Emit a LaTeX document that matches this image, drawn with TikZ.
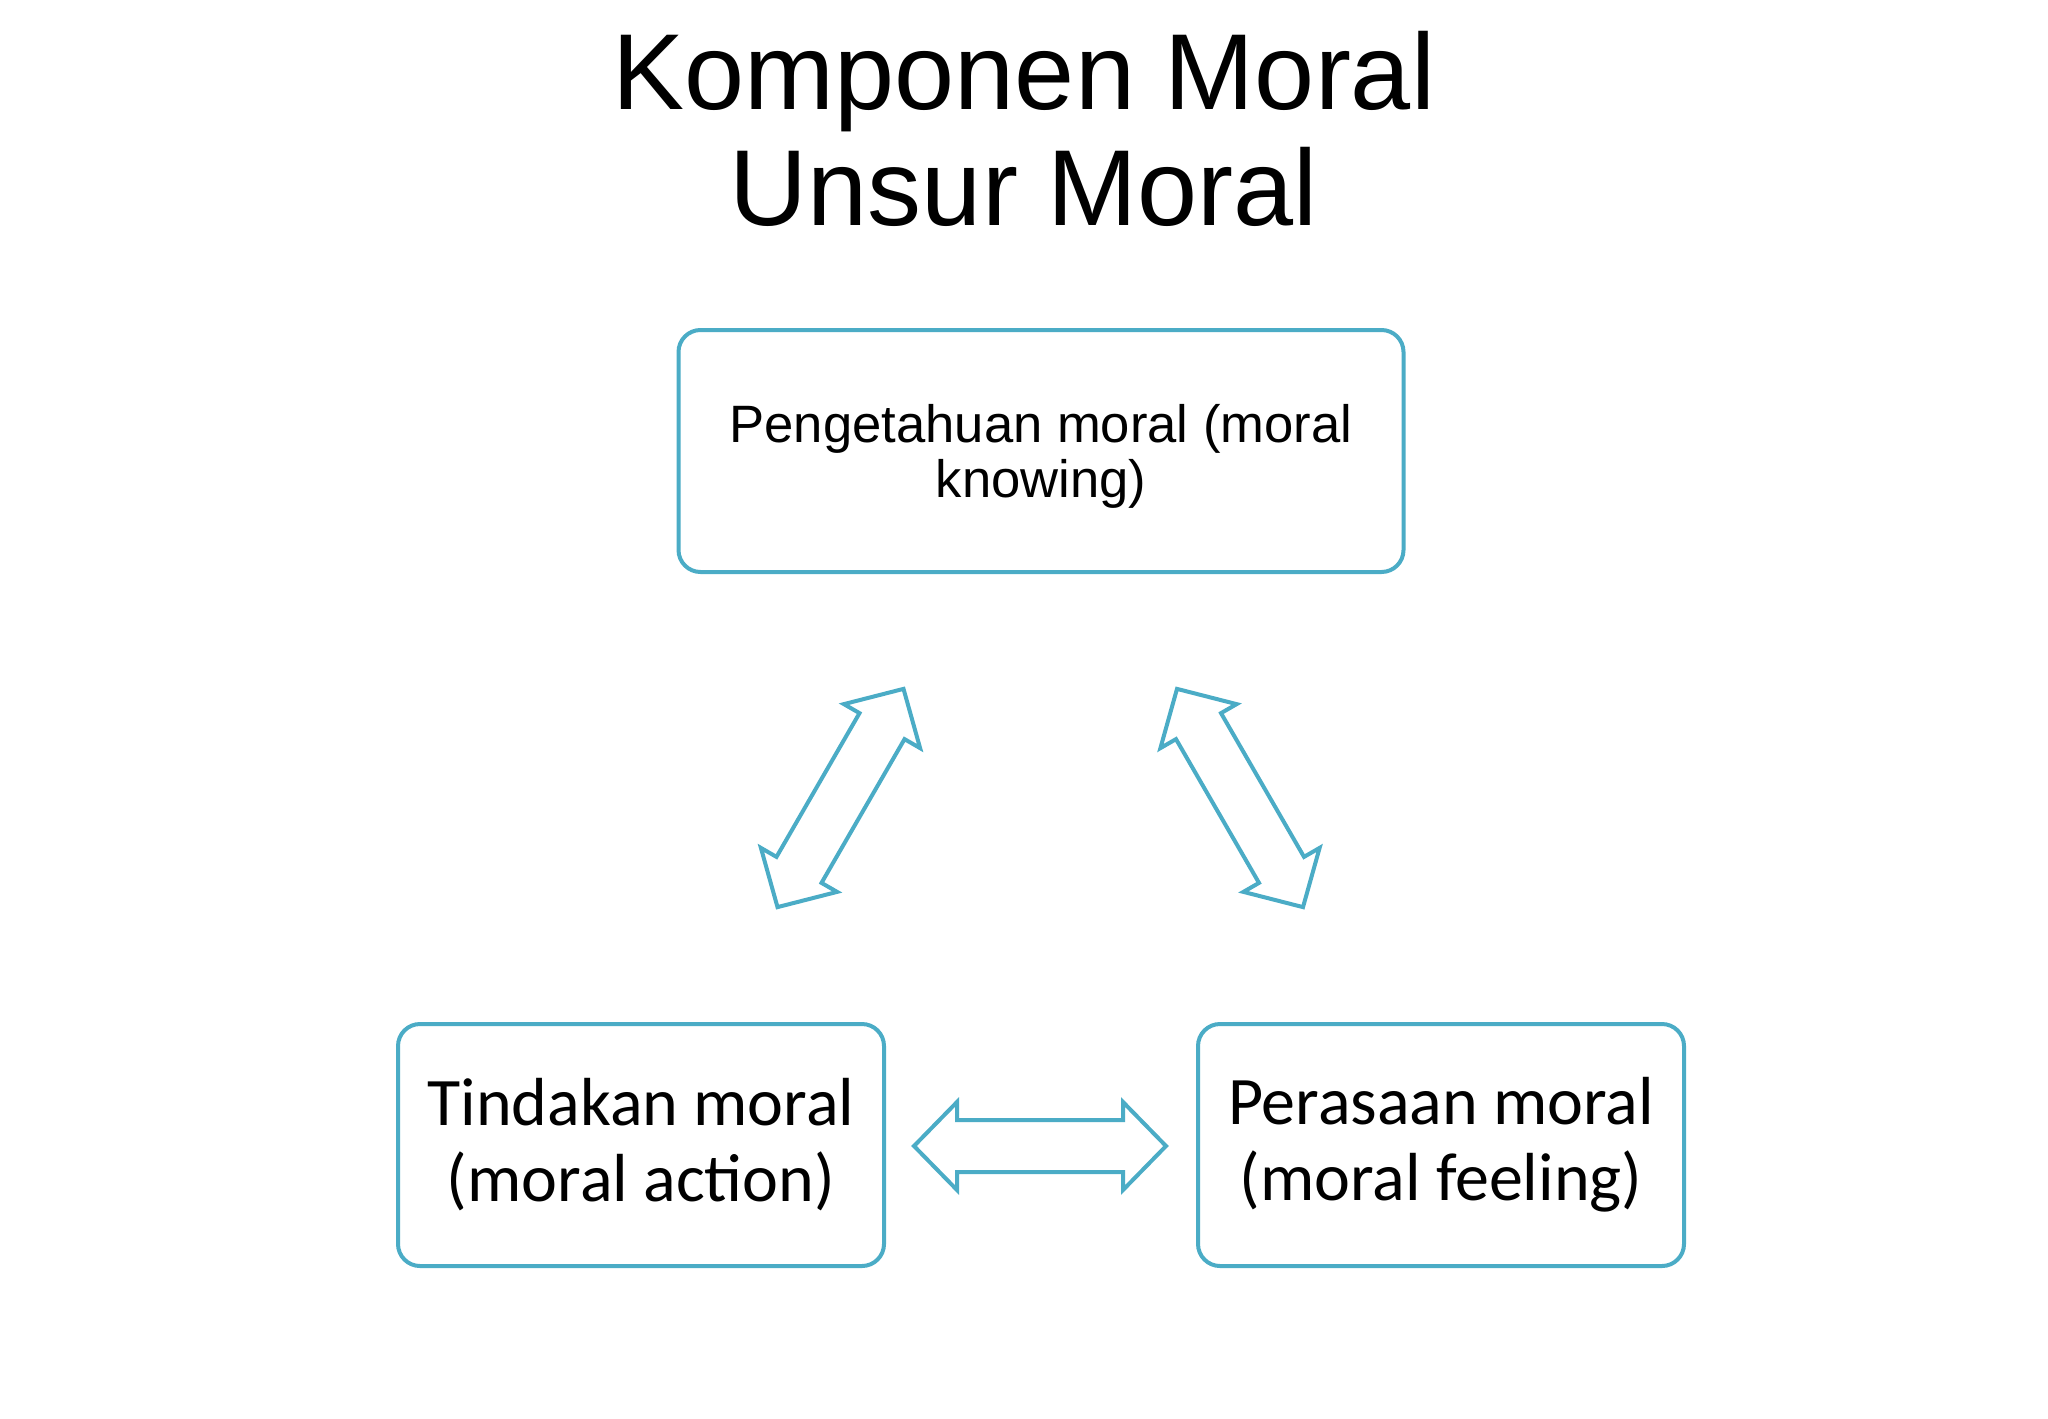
\documentclass[tikz,border=0pt]{standalone}
\usepackage{fontspec}
\setmainfont{Liberation Sans}
\newfontfamily\calfont{Carlito}
\definecolor{accent}{HTML}{4BACC6}
\begin{document}
\begin{tikzpicture}[x=0.5pt,y=-0.5pt,
  box/.style={draw=accent, line width=2pt, rounded corners=11pt, fill=white,
    inner sep=0pt, align=center},
  topbox/.style={box, minimum width=362.5pt, minimum height=121pt,
    font=\fontsize{26.3}{27.5}\selectfont},
  lowbox/.style={box, minimum width=243pt, minimum height=121pt,
    font=\calfont\fontsize{34}{38}\selectfont},
  titletext/.style={inner sep=0pt, anchor=base, font=\fontsize{54}{56}\selectfont},
  arrowline/.style={draw=accent, line width=2pt, fill=white},
  dblarrow/.pic={\path[arrowline] (-126,0) -- (-83,44) -- (-83,26) -- (83,26) -- (83,44)
     -- (126,0) -- (83,-44) -- (83,-26) -- (-83,-26) -- (-83,-44) -- cycle;}
]
\useasboundingbox (0,0) rectangle (2048,1418);
\node[titletext] (t1) at (1024,110) {Komponen Moral};
\node[titletext] (t2) at (1024,225) {Unsur Moral};
\node[topbox] (know) at (1041,451) {\rule{0pt}{24.5pt}Pengetahuan moral (moral\\knowing)};
\node[lowbox] (act) at (641,1145) {Tindakan moral\\(moral action)};
\node[lowbox] (feel) at (1441,1145) {Perasaan moral\\(moral feeling)};
\pic[rotate=60] (aleft) at (840.5,798) {dblarrow};
\pic[rotate=-60] (aright) at (1240,798) {dblarrow};
\pic (abottom) at (1040,1146) {dblarrow};
\end{tikzpicture}
\end{document}
